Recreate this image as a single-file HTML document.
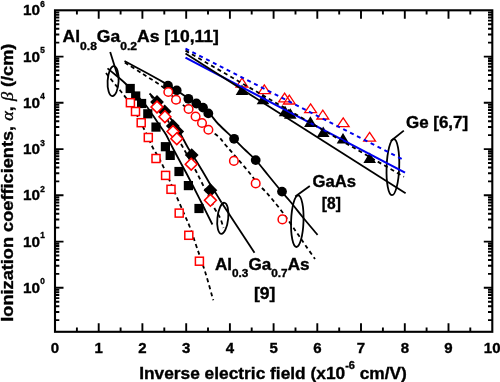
<!DOCTYPE html>
<html><head><meta charset="utf-8"><title>Ionization coefficients</title>
<style>html,body{margin:0;padding:0;background:#fff;}svg{display:block;}</style>
</head><body>
<svg width="500" height="382" viewBox="0 0 500 382">
<rect width="500" height="382" fill="#fff"/>
<rect x="55.0" y="10.3" width="437.3" height="321.5" fill="none" stroke="#000" stroke-width="2.1"/>
<path d="M98.7,331.8L98.7,323.3 M98.7,10.3L98.7,18.8 M142.4,331.8L142.4,323.3 M142.4,10.3L142.4,18.8 M186.2,331.8L186.2,323.3 M186.2,10.3L186.2,18.8 M229.9,331.8L229.9,323.3 M229.9,10.3L229.9,18.8 M273.6,331.8L273.6,323.3 M273.6,10.3L273.6,18.8 M317.3,331.8L317.3,323.3 M317.3,10.3L317.3,18.8 M361.0,331.8L361.0,323.3 M361.0,10.3L361.0,18.8 M404.8,331.8L404.8,323.3 M404.8,10.3L404.8,18.8 M448.5,331.8L448.5,323.3 M448.5,10.3L448.5,18.8 M76.9,331.8L76.9,327.5 M76.9,10.3L76.9,14.6 M120.6,331.8L120.6,327.5 M120.6,10.3L120.6,14.6 M164.3,331.8L164.3,327.5 M164.3,10.3L164.3,14.6 M208.0,331.8L208.0,327.5 M208.0,10.3L208.0,14.6 M251.7,331.8L251.7,327.5 M251.7,10.3L251.7,14.6 M295.5,331.8L295.5,327.5 M295.5,10.3L295.5,14.6 M339.2,331.8L339.2,327.5 M339.2,10.3L339.2,14.6 M382.9,331.8L382.9,327.5 M382.9,10.3L382.9,14.6 M426.6,331.8L426.6,327.5 M426.6,10.3L426.6,14.6 M470.3,331.8L470.3,327.5 M470.3,10.3L470.3,14.6 M55.0,320.1L59.3,320.1 M492.3,320.1L488.0,320.1 M55.0,312.0L59.3,312.0 M492.3,312.0L488.0,312.0 M55.0,306.2L59.3,306.2 M492.3,306.2L488.0,306.2 M55.0,301.7L59.3,301.7 M492.3,301.7L488.0,301.7 M55.0,298.1L59.3,298.1 M492.3,298.1L488.0,298.1 M55.0,295.0L59.3,295.0 M492.3,295.0L488.0,295.0 M55.0,292.3L59.3,292.3 M492.3,292.3L488.0,292.3 M55.0,289.9L59.3,289.9 M492.3,289.9L488.0,289.9 M55.0,287.8L63.5,287.8 M492.3,287.8L483.8,287.8 M55.0,273.9L59.3,273.9 M492.3,273.9L488.0,273.9 M55.0,265.7L59.3,265.7 M492.3,265.7L488.0,265.7 M55.0,260.0L59.3,260.0 M492.3,260.0L488.0,260.0 M55.0,255.5L59.3,255.5 M492.3,255.5L488.0,255.5 M55.0,251.8L59.3,251.8 M492.3,251.8L488.0,251.8 M55.0,248.7L59.3,248.7 M492.3,248.7L488.0,248.7 M55.0,246.0L59.3,246.0 M492.3,246.0L488.0,246.0 M55.0,243.7L59.3,243.7 M492.3,243.7L488.0,243.7 M55.0,241.6L63.5,241.6 M492.3,241.6L483.8,241.6 M55.0,227.6L59.3,227.6 M492.3,227.6L488.0,227.6 M55.0,219.5L59.3,219.5 M492.3,219.5L488.0,219.5 M55.0,213.7L59.3,213.7 M492.3,213.7L488.0,213.7 M55.0,209.2L59.3,209.2 M492.3,209.2L488.0,209.2 M55.0,205.6L59.3,205.6 M492.3,205.6L488.0,205.6 M55.0,202.5L59.3,202.5 M492.3,202.5L488.0,202.5 M55.0,199.8L59.3,199.8 M492.3,199.8L488.0,199.8 M55.0,197.4L59.3,197.4 M492.3,197.4L488.0,197.4 M55.0,195.3L63.5,195.3 M492.3,195.3L483.8,195.3 M55.0,181.4L59.3,181.4 M492.3,181.4L488.0,181.4 M55.0,173.2L59.3,173.2 M492.3,173.2L488.0,173.2 M55.0,167.5L59.3,167.5 M492.3,167.5L488.0,167.5 M55.0,163.0L59.3,163.0 M492.3,163.0L488.0,163.0 M55.0,159.3L59.3,159.3 M492.3,159.3L488.0,159.3 M55.0,156.2L59.3,156.2 M492.3,156.2L488.0,156.2 M55.0,153.5L59.3,153.5 M492.3,153.5L488.0,153.5 M55.0,151.2L59.3,151.2 M492.3,151.2L488.0,151.2 M55.0,149.1L63.5,149.1 M492.3,149.1L483.8,149.1 M55.0,135.1L59.3,135.1 M492.3,135.1L488.0,135.1 M55.0,127.0L59.3,127.0 M492.3,127.0L488.0,127.0 M55.0,121.2L59.3,121.2 M492.3,121.2L488.0,121.2 M55.0,116.7L59.3,116.7 M492.3,116.7L488.0,116.7 M55.0,113.1L59.3,113.1 M492.3,113.1L488.0,113.1 M55.0,110.0L59.3,110.0 M492.3,110.0L488.0,110.0 M55.0,107.3L59.3,107.3 M492.3,107.3L488.0,107.3 M55.0,104.9L59.3,104.9 M492.3,104.9L488.0,104.9 M55.0,102.8L63.5,102.8 M492.3,102.8L483.8,102.8 M55.0,88.9L59.3,88.9 M492.3,88.9L488.0,88.9 M55.0,80.7L59.3,80.7 M492.3,80.7L488.0,80.7 M55.0,75.0L59.3,75.0 M492.3,75.0L488.0,75.0 M55.0,70.5L59.3,70.5 M492.3,70.5L488.0,70.5 M55.0,66.8L59.3,66.8 M492.3,66.8L488.0,66.8 M55.0,63.7L59.3,63.7 M492.3,63.7L488.0,63.7 M55.0,61.0L59.3,61.0 M492.3,61.0L488.0,61.0 M55.0,58.7L59.3,58.7 M492.3,58.7L488.0,58.7 M55.0,56.6L63.5,56.6 M492.3,56.6L483.8,56.6 M55.0,42.6L59.3,42.6 M492.3,42.6L488.0,42.6 M55.0,34.5L59.3,34.5 M492.3,34.5L488.0,34.5 M55.0,28.7L59.3,28.7 M492.3,28.7L488.0,28.7 M55.0,24.2L59.3,24.2 M492.3,24.2L488.0,24.2 M55.0,20.6L59.3,20.6 M492.3,20.6L488.0,20.6 M55.0,17.5L59.3,17.5 M492.3,17.5L488.0,17.5 M55.0,14.8L59.3,14.8 M492.3,14.8L488.0,14.8 M55.0,12.4L59.3,12.4 M492.3,12.4L488.0,12.4" stroke="#000" stroke-width="1.9" fill="none"/>
<text x="55.0" y="352.8" text-anchor="middle" font-size="15" font-family="'Liberation Sans', Arial, sans-serif" font-weight="bold" stroke="#000" stroke-width="0.35">0</text>
<text x="98.7" y="352.8" text-anchor="middle" font-size="15" font-family="'Liberation Sans', Arial, sans-serif" font-weight="bold" stroke="#000" stroke-width="0.35">1</text>
<text x="142.4" y="352.8" text-anchor="middle" font-size="15" font-family="'Liberation Sans', Arial, sans-serif" font-weight="bold" stroke="#000" stroke-width="0.35">2</text>
<text x="186.2" y="352.8" text-anchor="middle" font-size="15" font-family="'Liberation Sans', Arial, sans-serif" font-weight="bold" stroke="#000" stroke-width="0.35">3</text>
<text x="229.9" y="352.8" text-anchor="middle" font-size="15" font-family="'Liberation Sans', Arial, sans-serif" font-weight="bold" stroke="#000" stroke-width="0.35">4</text>
<text x="273.6" y="352.8" text-anchor="middle" font-size="15" font-family="'Liberation Sans', Arial, sans-serif" font-weight="bold" stroke="#000" stroke-width="0.35">5</text>
<text x="317.3" y="352.8" text-anchor="middle" font-size="15" font-family="'Liberation Sans', Arial, sans-serif" font-weight="bold" stroke="#000" stroke-width="0.35">6</text>
<text x="361.0" y="352.8" text-anchor="middle" font-size="15" font-family="'Liberation Sans', Arial, sans-serif" font-weight="bold" stroke="#000" stroke-width="0.35">7</text>
<text x="404.8" y="352.8" text-anchor="middle" font-size="15" font-family="'Liberation Sans', Arial, sans-serif" font-weight="bold" stroke="#000" stroke-width="0.35">8</text>
<text x="448.5" y="352.8" text-anchor="middle" font-size="15" font-family="'Liberation Sans', Arial, sans-serif" font-weight="bold" stroke="#000" stroke-width="0.35">9</text>
<text x="492.2" y="352.8" text-anchor="middle" font-size="15" font-family="'Liberation Sans', Arial, sans-serif" font-weight="bold" stroke="#000" stroke-width="0.35">10</text>
<text x="40.1" y="292.7" text-anchor="end" font-size="15.3" font-family="'Liberation Sans', Arial, sans-serif" font-weight="bold" stroke="#000" stroke-width="0.35">10</text>
<text x="40.3" y="284.2" font-size="8.2" font-family="'Liberation Sans', Arial, sans-serif" font-weight="bold" stroke="#000" stroke-width="0.35">0</text>
<text x="40.1" y="246.5" text-anchor="end" font-size="15.3" font-family="'Liberation Sans', Arial, sans-serif" font-weight="bold" stroke="#000" stroke-width="0.35">10</text>
<text x="40.3" y="238.0" font-size="8.2" font-family="'Liberation Sans', Arial, sans-serif" font-weight="bold" stroke="#000" stroke-width="0.35">1</text>
<text x="40.1" y="200.2" text-anchor="end" font-size="15.3" font-family="'Liberation Sans', Arial, sans-serif" font-weight="bold" stroke="#000" stroke-width="0.35">10</text>
<text x="40.3" y="191.7" font-size="8.2" font-family="'Liberation Sans', Arial, sans-serif" font-weight="bold" stroke="#000" stroke-width="0.35">2</text>
<text x="40.1" y="154.0" text-anchor="end" font-size="15.3" font-family="'Liberation Sans', Arial, sans-serif" font-weight="bold" stroke="#000" stroke-width="0.35">10</text>
<text x="40.3" y="145.5" font-size="8.2" font-family="'Liberation Sans', Arial, sans-serif" font-weight="bold" stroke="#000" stroke-width="0.35">3</text>
<text x="40.1" y="107.7" text-anchor="end" font-size="15.3" font-family="'Liberation Sans', Arial, sans-serif" font-weight="bold" stroke="#000" stroke-width="0.35">10</text>
<text x="40.3" y="99.2" font-size="8.2" font-family="'Liberation Sans', Arial, sans-serif" font-weight="bold" stroke="#000" stroke-width="0.35">4</text>
<text x="40.1" y="61.5" text-anchor="end" font-size="15.3" font-family="'Liberation Sans', Arial, sans-serif" font-weight="bold" stroke="#000" stroke-width="0.35">10</text>
<text x="40.3" y="53.0" font-size="8.2" font-family="'Liberation Sans', Arial, sans-serif" font-weight="bold" stroke="#000" stroke-width="0.35">5</text>
<text x="40.1" y="15.2" text-anchor="end" font-size="15.3" font-family="'Liberation Sans', Arial, sans-serif" font-weight="bold" stroke="#000" stroke-width="0.35">10</text>
<text x="40.3" y="6.7" font-size="8.2" font-family="'Liberation Sans', Arial, sans-serif" font-weight="bold" stroke="#000" stroke-width="0.35">6</text>
<path d="M107.5,68.4 C109.0,69.6 113.4,73.2 116.5,75.8 C119.6,78.4 122.7,80.9 125.9,84.0 C129.2,87.1 132.7,90.9 136.0,94.5 C139.3,98.1 143.2,102.0 146.0,105.5 C148.8,109.0 150.5,111.9 153.0,115.5 C155.5,119.1 158.6,123.8 160.8,127.0 C163.0,130.2 164.2,131.4 166.1,134.8 C168.0,138.2 170.3,143.3 172.5,147.5 C174.7,151.7 176.9,155.8 179.2,160.0 C181.4,164.2 183.7,168.2 186.0,172.5 C188.3,176.8 189.9,180.0 193.0,186.0 C196.1,192.0 201.2,202.1 204.4,208.5 C207.6,214.9 211.1,221.8 212.4,224.5" stroke="#000" stroke-width="1.8" fill="none"/>
<path d="M106.0,73.0 C107.3,74.7 111.5,79.9 114.0,83.0 C116.5,86.1 118.7,88.6 121.0,91.5 C123.3,94.4 125.8,97.4 128.0,100.5 C130.2,103.6 132.0,106.6 134.0,110.0 C136.0,113.4 137.8,116.8 140.0,121.0 C142.2,125.2 144.8,130.5 147.0,135.0 C149.2,139.5 150.8,143.8 153.0,148.0 C155.2,152.2 157.5,155.2 160.0,160.0 C162.5,164.8 165.5,171.5 168.0,177.0 C170.5,182.5 172.4,187.2 175.0,193.0 C177.6,198.8 180.8,206.2 183.3,212.0 C185.8,217.8 187.9,222.0 190.2,228.0 C192.5,234.0 194.4,240.5 197.0,248.0 C199.6,255.5 202.8,264.3 205.5,273.0 C208.2,281.7 212.0,295.8 213.3,300.3" stroke="#000" stroke-width="1.8" fill="none" stroke-dasharray="4,3.2"/>
<path d="M149.5,93.5 C150.8,94.8 154.4,98.2 157.0,101.0 C159.6,103.8 162.3,107.0 165.0,110.5 C167.7,114.0 170.5,118.2 173.0,122.0 C175.5,125.8 177.7,129.0 180.0,133.0 C182.3,137.0 184.4,141.5 187.0,146.0 C189.6,150.5 193.0,155.7 195.7,160.0 C198.4,164.3 200.6,168.0 203.0,172.0 C205.4,176.0 207.8,180.4 210.0,184.0 C212.2,187.6 214.1,190.4 216.0,193.5 C217.9,196.6 220.6,201.0 221.5,202.5" stroke="#000" stroke-width="1.8" fill="none"/>
<path d="M150.8,95.2 C151.8,96.8 154.6,101.5 157.0,105.0 C159.4,108.5 162.5,112.2 165.0,116.0 C167.5,119.8 169.8,124.2 172.0,128.0 C174.2,131.8 175.8,135.2 178.0,139.0 C180.2,142.8 182.8,147.0 185.0,151.0 C187.2,155.0 189.5,159.3 191.5,163.0 C193.5,166.7 194.9,169.0 197.0,173.0 C199.1,177.0 201.8,182.7 204.0,187.0 C206.2,191.3 208.3,195.6 210.0,199.0 C211.7,202.4 212.7,205.0 214.0,207.5 C215.3,210.0 216.8,211.9 218.0,214.0 C219.2,216.1 220.1,217.7 221.0,220.0 C221.9,222.3 223.1,226.7 223.5,228.0" stroke="#000" stroke-width="1.8" fill="none" stroke-dasharray="4,3.2"/>
<path d="M124.5,61.0 C127.8,62.8 137.9,68.2 144.5,71.8 C151.1,75.4 158.6,79.5 164.0,82.6 C169.4,85.7 172.6,87.8 176.7,90.4 C180.8,93.0 185.1,96.2 188.4,98.4 C191.7,100.6 194.0,101.9 196.4,103.5 C198.8,105.1 200.7,106.2 203.0,108.0 C205.3,109.8 207.4,111.3 210.0,114.0 C212.6,116.7 214.3,119.9 218.3,124.0 C222.3,128.1 229.4,134.5 233.9,138.8 C238.4,143.1 241.6,146.5 245.2,150.0 C248.8,153.5 251.9,155.8 255.7,160.0 C259.5,164.2 263.7,169.7 268.0,175.0 C272.3,180.3 278.1,187.4 281.7,191.7 C285.3,196.0 286.2,196.7 289.8,201.0 C293.4,205.3 298.4,211.8 303.0,217.5 C307.6,223.2 315.2,232.0 317.6,234.9" stroke="#000" stroke-width="1.8" fill="none"/>
<path d="M124.8,62.6 C127.7,64.4 136.2,69.7 142.0,73.4 C147.8,77.1 155.1,81.5 159.5,84.6 C163.9,87.7 165.6,89.5 168.3,92.0 C171.1,94.5 172.7,96.7 176.0,99.5 C179.3,102.3 184.7,106.2 188.0,109.0 C191.3,111.8 193.7,114.2 196.0,116.5 C198.3,118.8 199.9,121.0 202.0,123.0 C204.1,125.0 206.6,127.0 208.4,128.5 C210.2,130.1 211.1,130.8 213.0,132.3 C214.9,133.9 217.6,135.7 219.7,137.8 C221.8,139.9 223.4,142.6 225.5,145.0 C227.6,147.4 229.4,149.4 232.0,152.4 C234.6,155.4 238.3,159.6 241.3,163.1 C244.3,166.6 247.2,170.0 250.0,173.5 C252.8,177.0 255.5,181.1 258.0,184.0 C260.5,186.9 262.5,188.3 265.0,191.0 C267.5,193.7 269.7,196.2 272.8,200.0 C275.9,203.8 279.9,208.7 283.8,214.0 C287.7,219.3 292.9,227.0 296.4,232.1 C299.9,237.2 301.9,240.2 305.0,244.7 C308.1,249.2 313.3,256.6 315.0,259.0" stroke="#000" stroke-width="1.8" fill="none" stroke-dasharray="4,3.2"/>
<ellipse cx="113.1" cy="81.2" rx="5.5" ry="15.0" transform="rotate(3.0 113.1 81.2)" fill="none" stroke="#000" stroke-width="1.8"/>
<path d="M110.2,52.1L117.7,75.9" stroke="#000" stroke-width="1.8"/>
<ellipse cx="222.8" cy="218.3" rx="5.4" ry="15.6" transform="rotate(6.0 222.8 218.3)" fill="none" stroke="#000" stroke-width="1.8"/>
<path d="M221.5,202.5L254.5,252.7" stroke="#000" stroke-width="1.8"/>
<ellipse cx="297.3" cy="221.2" rx="6.2" ry="25.8" transform="rotate(2.0 297.3 221.2)" fill="none" stroke="#000" stroke-width="1.8"/>
<path d="M295.3,196.5L309.8,186.0" stroke="#000" stroke-width="1.8"/>
<ellipse cx="392.9" cy="167.2" rx="6.3" ry="28.0" transform="rotate(2.0 392.9 167.2)" fill="none" stroke="#000" stroke-width="1.8"/>
<path d="M390.8,141.0L403.8,130.6" stroke="#000" stroke-width="1.8"/>
<rect x="125.6" y="83.9" width="9.2" height="9.2" fill="#000"/>
<rect x="131.1" y="91.4" width="9.2" height="9.2" fill="#000"/>
<rect x="137.0" y="98.9" width="9.2" height="9.2" fill="#000"/>
<rect x="143.2" y="109.2" width="9.2" height="9.2" fill="#000"/>
<rect x="151.4" y="122.5" width="9.2" height="9.2" fill="#000"/>
<rect x="160.8" y="142.1" width="9.2" height="9.2" fill="#000"/>
<rect x="165.6" y="150.8" width="9.2" height="9.2" fill="#000"/>
<rect x="174.4" y="166.9" width="9.2" height="9.2" fill="#000"/>
<rect x="183.8" y="181.0" width="9.2" height="9.2" fill="#000"/>
<rect x="194.4" y="203.9" width="9.2" height="9.2" fill="#000"/>
<rect x="126.4" y="98.7" width="8.0" height="8.0" fill="#fff" stroke="#f00" stroke-width="1.5"/>
<rect x="131.5" y="107.5" width="8.0" height="8.0" fill="#fff" stroke="#f00" stroke-width="1.5"/>
<rect x="137.2" y="118.7" width="8.0" height="8.0" fill="#fff" stroke="#f00" stroke-width="1.5"/>
<rect x="144.3" y="133.5" width="8.0" height="8.0" fill="#fff" stroke="#f00" stroke-width="1.5"/>
<rect x="152.0" y="154.5" width="8.0" height="8.0" fill="#fff" stroke="#f00" stroke-width="1.5"/>
<rect x="161.6" y="171.4" width="8.0" height="8.0" fill="#fff" stroke="#f00" stroke-width="1.5"/>
<rect x="167.0" y="185.3" width="8.0" height="8.0" fill="#fff" stroke="#f00" stroke-width="1.5"/>
<rect x="175.2" y="209.1" width="8.0" height="8.0" fill="#fff" stroke="#f00" stroke-width="1.5"/>
<rect x="184.8" y="231.3" width="8.0" height="8.0" fill="#fff" stroke="#f00" stroke-width="1.5"/>
<rect x="195.4" y="257.2" width="8.0" height="8.0" fill="#fff" stroke="#f00" stroke-width="1.5"/>
<polygon points="157.0,95.1 163.9,102.0 157.0,108.9 150.1,102.0" fill="#000"/>
<polygon points="164.7,104.6 171.6,111.5 164.7,118.4 157.8,111.5" fill="#000"/>
<polygon points="172.8,119.1 179.7,126.0 172.8,132.9 165.9,126.0" fill="#000"/>
<polygon points="177.2,124.6 184.1,131.5 177.2,138.4 170.3,131.5" fill="#000"/>
<polygon points="191.7,148.2 198.6,155.1 191.7,162.0 184.8,155.1" fill="#000"/>
<polygon points="210.4,183.3 217.3,190.2 210.4,197.1 203.5,190.2" fill="#000"/>
<polygon points="157.0,101.1 162.9,107.0 157.0,112.9 151.1,107.0" fill="#fff" stroke="#f00" stroke-width="1.6"/>
<polygon points="164.9,110.8 170.8,116.7 164.9,122.6 159.0,116.7" fill="#fff" stroke="#f00" stroke-width="1.6"/>
<polygon points="173.0,125.6 178.9,131.5 173.0,137.4 167.1,131.5" fill="#fff" stroke="#f00" stroke-width="1.6"/>
<polygon points="176.8,132.8 182.7,138.7 176.8,144.6 170.9,138.7" fill="#fff" stroke="#f00" stroke-width="1.6"/>
<polygon points="191.2,158.3 197.1,164.2 191.2,170.1 185.3,164.2" fill="#fff" stroke="#f00" stroke-width="1.6"/>
<polygon points="210.4,194.4 216.3,200.3 210.4,206.2 204.5,200.3" fill="#fff" stroke="#f00" stroke-width="1.6"/>
<circle cx="168.0" cy="85.7" r="4.9" fill="#000"/>
<circle cx="176.7" cy="90.4" r="4.9" fill="#000"/>
<circle cx="188.4" cy="98.8" r="4.9" fill="#000"/>
<circle cx="196.4" cy="103.5" r="4.9" fill="#000"/>
<circle cx="203.0" cy="107.6" r="4.9" fill="#000"/>
<circle cx="208.3" cy="113.4" r="4.9" fill="#000"/>
<circle cx="234.1" cy="138.8" r="4.9" fill="#000"/>
<circle cx="255.7" cy="160.1" r="4.9" fill="#000"/>
<circle cx="282.0" cy="191.6" r="4.9" fill="#000"/>
<circle cx="168.3" cy="92.0" r="4.3" fill="#fff" stroke="#f00" stroke-width="1.5"/>
<circle cx="176.0" cy="99.8" r="4.3" fill="#fff" stroke="#f00" stroke-width="1.5"/>
<circle cx="188.6" cy="109.0" r="4.3" fill="#fff" stroke="#f00" stroke-width="1.5"/>
<circle cx="195.6" cy="116.5" r="4.3" fill="#fff" stroke="#f00" stroke-width="1.5"/>
<circle cx="202.0" cy="123.0" r="4.3" fill="#fff" stroke="#f00" stroke-width="1.5"/>
<circle cx="208.4" cy="129.7" r="4.3" fill="#fff" stroke="#f00" stroke-width="1.5"/>
<circle cx="233.9" cy="160.9" r="4.3" fill="#fff" stroke="#f00" stroke-width="1.5"/>
<circle cx="255.7" cy="183.4" r="4.3" fill="#fff" stroke="#f00" stroke-width="1.5"/>
<circle cx="282.4" cy="219.4" r="4.3" fill="#fff" stroke="#f00" stroke-width="1.5"/>
<polygon points="242.0,84.4 248.3,95.0 235.7,95.0" fill="#000"/>
<polygon points="263.0,93.7 269.3,104.3 256.7,104.3" fill="#000"/>
<polygon points="285.1,105.7 291.4,116.3 278.8,116.3" fill="#000"/>
<polygon points="290.3,108.2 296.6,118.8 284.0,118.8" fill="#000"/>
<polygon points="310.4,116.3 316.7,126.9 304.1,126.9" fill="#000"/>
<polygon points="323.2,126.5 329.5,137.1 316.9,137.1" fill="#000"/>
<polygon points="343.0,132.9 349.3,143.5 336.7,143.5" fill="#000"/>
<polygon points="369.7,152.5 376.0,163.1 363.4,163.1" fill="#000"/>
<polygon points="242.0,78.2 247.9,87.0 236.1,87.0" fill="none" stroke="#f00" stroke-width="1.3" stroke-linejoin="miter"/>
<polygon points="264.3,84.8 270.2,93.6 258.4,93.6" fill="none" stroke="#f00" stroke-width="1.3" stroke-linejoin="miter"/>
<polygon points="284.6,93.1 290.5,101.9 278.7,101.9" fill="none" stroke="#f00" stroke-width="1.3" stroke-linejoin="miter"/>
<polygon points="289.3,95.2 295.2,104.0 283.4,104.0" fill="none" stroke="#f00" stroke-width="1.3" stroke-linejoin="miter"/>
<polygon points="310.6,103.8 316.5,112.6 304.7,112.6" fill="none" stroke="#f00" stroke-width="1.3" stroke-linejoin="miter"/>
<polygon points="322.8,110.2 328.7,119.0 316.9,119.0" fill="none" stroke="#f00" stroke-width="1.3" stroke-linejoin="miter"/>
<polygon points="343.2,117.8 349.1,126.6 337.3,126.6" fill="none" stroke="#f00" stroke-width="1.3" stroke-linejoin="miter"/>
<polygon points="369.6,132.4 375.5,141.2 363.7,141.2" fill="none" stroke="#f00" stroke-width="1.3" stroke-linejoin="miter"/>
<path d="M185.5,57.6 L405.0,172.6" stroke="#0000ee" stroke-width="2.2" fill="none"/>
<path d="M185.5,48.6 L404.5,160.4" stroke="#0000ee" stroke-width="2.0" fill="none" stroke-dasharray="4,3.7"/>
<path d="M185.5,53.4 L405.6,193.3" stroke="#000" stroke-width="1.8" fill="none"/>
<path d="M185.5,50.6 L404.0,176.8" stroke="#000" stroke-width="1.8" fill="none" stroke-dasharray="4,3.4"/>
<text x="62.54" y="42.40" font-size="16.20" font-family="'Liberation Sans', Arial, sans-serif" font-weight="bold" stroke="#000" stroke-width="0.35" textLength="156.34" lengthAdjust="spacingAndGlyphs">Al<tspan dy="7.2" font-size="11.2">0.8</tspan><tspan dy="-7.2">Ga</tspan><tspan dy="7.2" font-size="11.2">0.2</tspan><tspan dy="-7.2">As [10,11]</tspan></text>
<text x="214.94" y="269.80" font-size="16.20" font-family="'Liberation Sans', Arial, sans-serif" font-weight="bold" stroke="#000" stroke-width="0.35" textLength="94.62" lengthAdjust="spacingAndGlyphs">Al<tspan dy="7.2" font-size="11.2">0.3</tspan><tspan dy="-7.2">Ga</tspan><tspan dy="7.2" font-size="11.2">0.7</tspan><tspan dy="-7.2">As</tspan></text>
<text x="253.95" y="298.60" font-size="16.20" font-family="'Liberation Sans', Arial, sans-serif" font-weight="bold" stroke="#000" stroke-width="0.35" textLength="21.45" lengthAdjust="spacingAndGlyphs">[9]</text>
<text x="312.49" y="186.70" font-size="16.20" font-family="'Liberation Sans', Arial, sans-serif" font-weight="bold" stroke="#000" stroke-width="0.35" textLength="43.53" lengthAdjust="spacingAndGlyphs">GaAs</text>
<text x="321.83" y="209.00" font-size="16.20" font-family="'Liberation Sans', Arial, sans-serif" font-weight="bold" stroke="#000" stroke-width="0.35" textLength="19.03" lengthAdjust="spacingAndGlyphs">[8]</text>
<text x="405.97" y="127.80" font-size="16.20" font-family="'Liberation Sans', Arial, sans-serif" font-weight="bold" stroke="#000" stroke-width="0.35" textLength="62.16" lengthAdjust="spacingAndGlyphs">Ge [6,7]</text>
<text x="139.16" y="378.90" font-size="16.60" font-family="'Liberation Sans', Arial, sans-serif" font-weight="bold" stroke="#000" stroke-width="0.35" textLength="267.73" lengthAdjust="spacingAndGlyphs">Inverse electric field (x10<tspan dy="-10" font-size="10.5">-6</tspan><tspan dy="10"> cm/V)</tspan></text>
<text transform="translate(13.00,321.73) rotate(-90)" font-size="16.60" font-family="'Liberation Sans', Arial, sans-serif" font-weight="bold" stroke="#000" stroke-width="0.35" textLength="278.16" lengthAdjust="spacingAndGlyphs">Ionization coefficients, <tspan font-family="'Liberation Serif', 'DejaVu Serif', serif" font-style="italic" font-weight="normal">&#945;</tspan>, <tspan font-family="'Liberation Serif', 'DejaVu Serif', serif" font-style="italic" font-weight="normal">&#946;</tspan> (/cm)</text>
</svg>
</body></html>
